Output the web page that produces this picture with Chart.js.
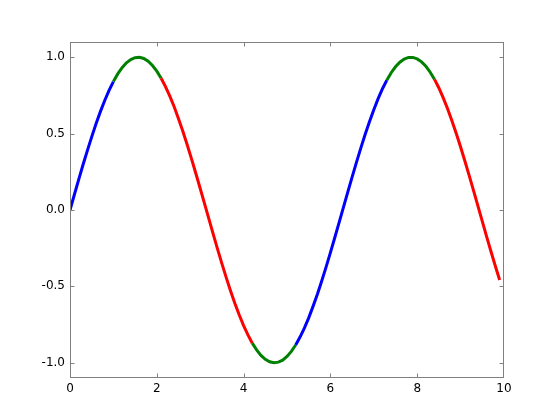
<!DOCTYPE html>
<html>
<head>
<meta charset="utf-8">
<script src="https://cdn.jsdelivr.net/npm/chart.js@4"></script>
<style>
  html, body { margin: 0; padding: 0; background: #fff; }
  #wrap { width: 560px; height: 420px; }
</style>
</head>
<body>
<div id="wrap"><canvas id="chart"></canvas></div>
<script>
// x sampled every 0.1 from 0 to 9.9
const xValues = [
  0.0, 0.1, 0.2, 0.3, 0.4, 0.5, 0.6, 0.7, 0.8, 0.9,
  1.0, 1.1, 1.2, 1.3, 1.4, 1.5, 1.6, 1.7, 1.8, 1.9,
  2.0, 2.1, 2.2, 2.3, 2.4, 2.5, 2.6, 2.7, 2.8, 2.9,
  3.0, 3.1, 3.2, 3.3, 3.4, 3.5, 3.6, 3.7, 3.8, 3.9,
  4.0, 4.1, 4.2, 4.3, 4.4, 4.5, 4.6, 4.7, 4.8, 4.9,
  5.0, 5.1, 5.2, 5.3, 5.4, 5.5, 5.6, 5.7, 5.8, 5.9,
  6.0, 6.1, 6.2, 6.3, 6.4, 6.5, 6.6, 6.7, 6.8, 6.9,
  7.0, 7.1, 7.2, 7.3, 7.4, 7.5, 7.6, 7.7, 7.8, 7.9,
  8.0, 8.1, 8.2, 8.3, 8.4, 8.5, 8.6, 8.7, 8.8, 8.9,
  9.0, 9.1, 9.2, 9.3, 9.4, 9.5, 9.6, 9.7, 9.8, 9.9
];

const yValues = [
  0.000, 0.100, 0.199, 0.296, 0.389, 0.479, 0.565, 0.644, 0.717, 0.783,
  0.841, 0.891, 0.932, 0.964, 0.985, 0.997, 1.000, 0.992, 0.974, 0.946,
  0.909, 0.863, 0.808, 0.746, 0.676, 0.598, 0.516, 0.427, 0.335, 0.239,
  0.141, 0.042, -0.058, -0.158, -0.256, -0.351, -0.443, -0.530, -0.612, -0.688,
  -0.757, -0.818, -0.872, -0.916, -0.952, -0.978, -0.994, -1.000, -0.996, -0.983,
  -0.959, -0.926, -0.884, -0.832, -0.773, -0.706, -0.631, -0.551, -0.465, -0.374,
  -0.279, -0.182, -0.083, 0.017, 0.117, 0.215, 0.312, 0.405, 0.494, 0.578,
  0.657, 0.729, 0.794, 0.850, 0.899, 0.938, 0.968, 0.988, 0.999, 0.999,
  0.989, 0.970, 0.941, 0.902, 0.855, 0.799, 0.734, 0.663, 0.585, 0.501,
  0.412, 0.319, 0.223, 0.125, 0.025, -0.075, -0.174, -0.272, -0.367, -0.458
];

const xTicks = [0, 2, 4, 6, 8, 10];
const yTicks = [-1.0, -0.5, 0.0, 0.5, 1.0];

const points = xValues.map((x, i) => ({ x: x, y: yValues[i] }));

// colour each segment by its slope: red falling, green flat, blue rising
function segColor(ctx) {
  const a = ctx.p0.parsed, b = ctx.p1.parsed;
  const slope = (b.y - a.y) / (b.x - a.x);
  if (slope < -0.5) return '#ff0000';
  if (slope > 0.5) return '#0000ff';
  return '#008000';
}

const frameColor = '#808080';

// matplotlib-like frame with inward ticks on all four sides
const framePlugin = {
  id: 'frame',
  afterDraw(chart) {
    const c = chart.ctx, area = chart.chartArea;
    const xs = chart.scales.x, ys = chart.scales.y;
    const L = area.left + 0.5, R = area.right - 0.5;
    const T = area.top + 0.5, B = area.bottom - 0.5;
    c.save();
    c.strokeStyle = frameColor;
    c.lineWidth = 1;
    c.strokeRect(L, T, R - L, B - T);
    c.beginPath();
    xTicks.forEach(v => {
      const px = Math.min(Math.max(Math.round(xs.getPixelForValue(v)) + 0.5, L), R);
      c.moveTo(px, B); c.lineTo(px, B - 4);
      c.moveTo(px, T); c.lineTo(px, T + 4);
    });
    yTicks.forEach(v => {
      const py = Math.round(ys.getPixelForValue(v)) + 0.5;
      c.moveTo(L, py); c.lineTo(L + 4, py);
      c.moveTo(R, py); c.lineTo(R - 4, py);
    });
    c.stroke();
    c.restore();
  }
};

new Chart(document.getElementById('chart'), {
  type: 'line',
  data: {
    datasets: [{
      data: points,
      borderWidth: 3,
      pointRadius: 0,
      tension: 0,
      borderColor: '#0000ff',
      segment: { borderColor: segColor }
    }]
  },
  options: {
    responsive: true,
    maintainAspectRatio: false,
    animation: false,
    layout: { padding: { top: 42, right: 56, left: 0, bottom: 0 } },
    plugins: { legend: { display: false }, tooltip: { enabled: false } },
    scales: {
      x: {
        type: 'linear',
        min: 0, max: 10,
        afterBuildTicks: s => { s.ticks = xTicks.map(v => ({ value: v })); },
        afterFit: s => { s.height = 42; },
        grid: { display: false, drawTicks: false },
        border: { display: false },
        ticks: {
          padding: 4,
          color: '#000',
          font: { family: 'DejaVu Sans', size: 12 },
          callback: v => String(v)
        }
      },
      y: {
        type: 'linear',
        min: -1.1, max: 1.1,
        afterBuildTicks: s => { s.ticks = yTicks.map(v => ({ value: v })); },
        afterFit: s => { s.width = 70; },
        grid: { display: false, drawTicks: false },
        border: { display: false },
        ticks: {
          padding: 5,
          color: '#000',
          font: { family: 'DejaVu Sans', size: 12 },
          callback: v => v.toFixed(1)
        }
      }
    }
  },
  plugins: [framePlugin]
});
</script>
</body>
</html>
